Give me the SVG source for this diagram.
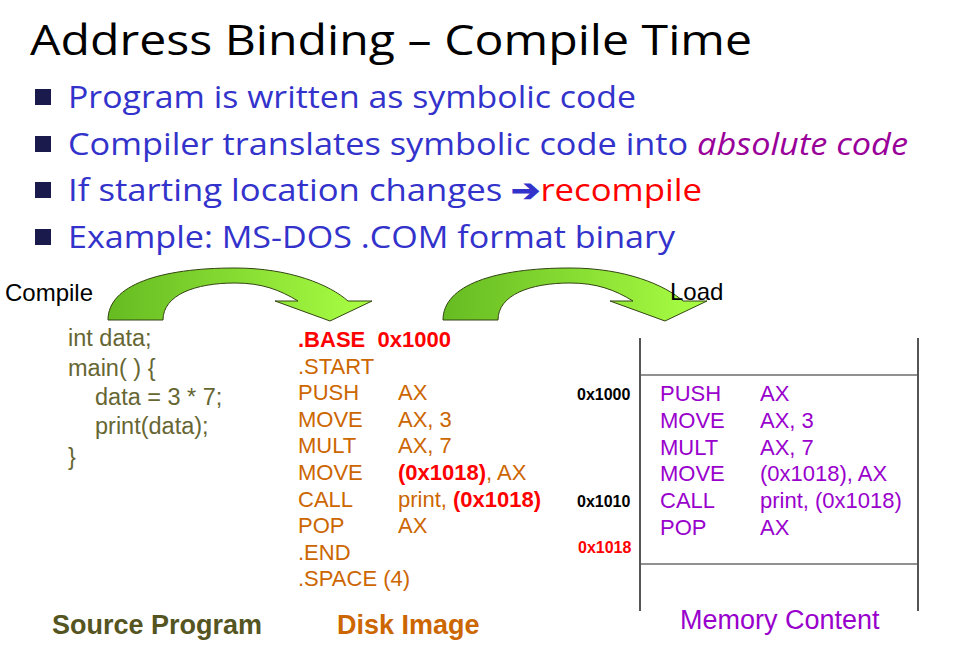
<svg xmlns="http://www.w3.org/2000/svg" width="961" height="649" viewBox="0 0 961 649">
<style>
.t{font-family:"Open Sans","Noto Sans",sans-serif}
.b{font-family:"Open Sans","Noto Sans",sans-serif;font-size:31px;fill:#3333cc}
.c{font-family:"Liberation Sans",Arial,sans-serif;font-size:22px}
.s{fill:#666633;font-size:23.5px}.d{fill:#cc6600}.m{fill:#9900cc}
.a{font-family:"Liberation Sans",Arial,sans-serif;font-size:16px;font-weight:bold}
</style>
<defs>
<linearGradient id="g" x1="0" x2="1" y1="0" y2="0">
<stop offset="0" stop-color="#66bb22"/><stop offset="1" stop-color="#aaff44"/>
</linearGradient>
<path id="arr" d="M108,320 C108,285 160,268 235,268 C290,268 330,285 348,301 L372,301 L330,321 L275,301 L298,301 C280,290 262,283 235,283 C195,283 163,295 163,320 Z" fill="url(#g)" stroke="#334411" stroke-width="1"/>
</defs>
<rect width="961" height="649" fill="#fff"/>
<text class="t" x="30" y="55" font-size="42" textLength="722" lengthAdjust="spacingAndGlyphs" fill="#000">Address Binding – Compile Time</text>
<g fill="#1a1a4d">
<rect x="35" y="89" width="16" height="16"/><rect x="35" y="136" width="16" height="16"/>
<rect x="35" y="182" width="16" height="16"/><rect x="35" y="229" width="16" height="16"/>
</g>
<text class="b" x="68" y="108" textLength="568" lengthAdjust="spacingAndGlyphs">Program is written as symbolic code</text>
<text class="b" x="68" y="155" textLength="840" lengthAdjust="spacingAndGlyphs">Compiler translates symbolic code into <tspan fill="#990099" font-style="italic">absolute code</tspan></text>
<text class="b" x="68" y="201" textLength="634" lengthAdjust="spacingAndGlyphs">If starting location changes <tspan font-weight="bold">➔</tspan><tspan fill="#ff0000">recompile</tspan></text>
<text class="b" x="68" y="248" textLength="607" lengthAdjust="spacingAndGlyphs">Example: MS-DOS .COM format binary</text>
<g id="arrows">
<use href="#arr"/>
<use href="#arr" transform="translate(335,0)"/>
</g>
<text class="c" x="5" y="301" style="font-size:24px" fill="#000">Compile</text>
<text class="c" x="670" y="300" style="font-size:24px" fill="#000">Load</text>
<g id="source" class="c s">
<text x="68" y="346">int data;</text>
<text x="68" y="376">main( ) {</text>
<text x="95" y="405">data = 3 * 7;</text>
<text x="95" y="434">print(data);</text>
<text x="68" y="465">}</text>
</g>
<g id="disk" class="c d">
<text x="298" y="347" fill="#ff0000" font-weight="bold" xml:space="preserve">.BASE  0x1000</text>
<text x="298" y="374">.START</text>
<text x="298" y="400">PUSH</text><text x="398" y="400">AX</text>
<text x="298" y="427">MOVE</text><text x="398" y="427">AX, 3</text>
<text x="298" y="453">MULT</text><text x="398" y="453">AX, 7</text>
<text x="298" y="480">MOVE</text><text x="398" y="480"><tspan fill="#ff0000" font-weight="bold">(0x1018)</tspan>, AX</text>
<text x="298" y="507">CALL</text><text x="398" y="507">print, <tspan fill="#ff0000" font-weight="bold">(0x1018)</tspan></text>
<text x="298" y="533">POP</text><text x="398" y="533">AX</text>
<text x="298" y="560">.END</text>
<text x="298" y="586">.SPACE (4)</text>
</g>
<g id="memory">
<line x1="640" y1="338" x2="640" y2="611" stroke="#555" stroke-width="2"/>
<line x1="918" y1="338" x2="918" y2="611" stroke="#555" stroke-width="2"/>
<line x1="641" y1="375" x2="917" y2="375" stroke="#222" stroke-width="1"/>
<line x1="641" y1="564" x2="917" y2="564" stroke="#222" stroke-width="1"/>
<text class="a" x="577" y="400">0x1000</text>
<text class="a" x="577" y="507">0x1010</text>
<text class="a" x="578" y="553" fill="#ff0000">0x1018</text>
<g class="c m">
<text x="660" y="401">PUSH</text><text x="760" y="401">AX</text>
<text x="660" y="428">MOVE</text><text x="760" y="428">AX, 3</text>
<text x="660" y="455">MULT</text><text x="760" y="455">AX, 7</text>
<text x="660" y="481">MOVE</text><text x="760" y="481">(0x1018), AX</text>
<text x="660" y="508">CALL</text><text x="760" y="508">print, (0x1018)</text>
<text x="660" y="535">POP</text><text x="760" y="535">AX</text>
</g>
</g>
<text class="c" x="52" y="634" style="font-size:27px;font-weight:bold" fill="#555522">Source Program</text>
<text class="c" x="337" y="634" style="font-size:27px;font-weight:bold" fill="#cc6600">Disk Image</text>
<text class="c" x="680" y="629" style="font-size:27px" fill="#9900cc">Memory Content</text>
</svg>
